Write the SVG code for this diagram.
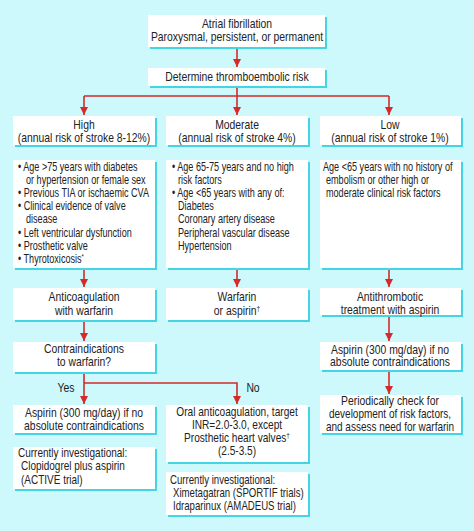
<svg xmlns="http://www.w3.org/2000/svg" width="474" height="531" viewBox="0 0 474 531">
<defs>
<style>
.bg{fill:#cdf8fc}
.sh{fill:#44d4e4}
.bx{fill:#ffffff}
text{font-family:"Liberation Sans",Arial,sans-serif;font-size:12.5px;fill:#222222}
.c{text-anchor:middle}
.l{font-size:12.2px}
.ln{stroke:#d42a2a;stroke-width:1.6;fill:none}
.sup{font-size:8px}
</style>
<marker id="ah2" viewBox="0 0 10 10" refX="10" refY="5" markerWidth="10" markerHeight="8" orient="auto" markerUnits="userSpaceOnUse">
<path d="M0,0 L10,5 L0,10 z" fill="#d42a2a"/>
</marker>
</defs>
<rect class="bg" x="0" y="0" width="474" height="531"/>

<g id="connectors">
<path class="ln" d="M237,49 V67" marker-end="url(#ah2)"/>
<path class="ln" d="M237,88 V96 M84,96 H389"/>
<path class="ln" d="M84,96 V115" marker-end="url(#ah2)"/>
<path class="ln" d="M237,96 V115" marker-end="url(#ah2)"/>
<path class="ln" d="M389,96 V115" marker-end="url(#ah2)"/>
<path class="ln" d="M84,270 V287" marker-end="url(#ah2)"/>
<path class="ln" d="M237,270 V287" marker-end="url(#ah2)"/>
<path class="ln" d="M389,270 V287" marker-end="url(#ah2)"/>
<path class="ln" d="M84,322 V341" marker-end="url(#ah2)"/>
<path class="ln" d="M389,317 V341" marker-end="url(#ah2)"/>
<path class="ln" d="M389,372 V394" marker-end="url(#ah2)"/>
<path class="ln" d="M84,374 V404" marker-end="url(#ah2)"/>
<path class="ln" d="M84,383 H237 V404" marker-end="url(#ah2)"/>
<text class="c" transform="translate(66,392) scale(0.83,1)">Yes</text>
<text class="c" transform="translate(253,392) scale(0.83,1)">No</text>
</g>

<g id="n-af">
<rect class="sh" x="150" y="17" width="177" height="32"/>
<rect class="bx" x="148" y="15" width="177" height="32"/>
<text class="c" transform="translate(237,28) scale(0.83,1)">Atrial fibrillation</text>
<text class="c" transform="translate(237,41) scale(0.83,1)">Paroxysmal, persistent, or permanent</text>
</g>

<g id="n-determine">
<rect class="sh" x="150" y="70" width="177" height="18"/>
<rect class="bx" x="148" y="68" width="177" height="18"/>
<text class="c" transform="translate(237,81) scale(0.83,1)">Determine thromboembolic risk</text>
</g>

<g id="n-high">
<rect class="sh" x="15" y="118" width="142" height="29"/>
<rect class="bx" x="13" y="116" width="142" height="29"/>
<text class="c" transform="translate(84,129) scale(0.83,1)">High</text>
<text class="c" transform="translate(84,142) scale(0.83,1)">(annual risk of stroke 8-12%)</text>
</g>

<g id="n-moderate">
<rect class="sh" x="168" y="118" width="142" height="29"/>
<rect class="bx" x="166" y="116" width="142" height="29"/>
<text class="c" transform="translate(237,129) scale(0.83,1)">Moderate</text>
<text class="c" transform="translate(237,142) scale(0.83,1)">(annual risk of stroke 4%)</text>
</g>

<g id="n-low">
<rect class="sh" x="322" y="118" width="141" height="29"/>
<rect class="bx" x="320" y="116" width="141" height="29"/>
<text class="c" transform="translate(390,129) scale(0.83,1)">Low</text>
<text class="c" transform="translate(390,142) scale(0.83,1)">(annual risk of stroke 1%)</text>
</g>

<g id="n-high-list">
<rect class="sh" x="15" y="162" width="142" height="108"/>
<rect class="bx" x="13" y="160" width="142" height="108"/>
<text class="l" transform="translate(18,171) scale(0.745,1)">• Age &gt;75 years with diabetes</text>
<text class="l" transform="translate(26,184) scale(0.745,1)">or hypertension or female sex</text>
<text class="l" transform="translate(18,197) scale(0.745,1)">• Previous TIA or ischaemic CVA</text>
<text class="l" transform="translate(18,210) scale(0.745,1)">• Clinical evidence of valve</text>
<text class="l" transform="translate(26,223) scale(0.745,1)">disease</text>
<text class="l" transform="translate(18,237) scale(0.745,1)">• Left ventricular dysfunction</text>
<text class="l" transform="translate(18,250) scale(0.745,1)">• Prosthetic valve</text>
<text class="l" transform="translate(18,263) scale(0.745,1)">• Thyrotoxicosis<tspan class="sup" dy="-4">*</tspan></text>
</g>

<g id="n-moderate-list">
<rect class="sh" x="168" y="162" width="142" height="108"/>
<rect class="bx" x="166" y="160" width="142" height="108"/>
<text class="l" transform="translate(172,171) scale(0.745,1)">• Age 65-75 years and no high</text>
<text class="l" transform="translate(178,184) scale(0.745,1)">risk factors</text>
<text class="l" transform="translate(172,197) scale(0.745,1)">• Age &lt;65 years with any of:</text>
<text class="l" transform="translate(178,210) scale(0.745,1)">Diabetes</text>
<text class="l" transform="translate(178,223) scale(0.745,1)">Coronary artery disease</text>
<text class="l" transform="translate(178,237) scale(0.745,1)">Peripheral vascular disease</text>
<text class="l" transform="translate(178,250) scale(0.745,1)">Hypertension</text>
</g>

<g id="n-low-list">
<rect class="sh" x="322" y="162" width="141" height="108"/>
<rect class="bx" x="320" y="160" width="141" height="108"/>
<text class="l" transform="translate(323,171) scale(0.745,1)">Age &lt;65 years with no history of</text>
<text class="l" transform="translate(326,184) scale(0.745,1)">embolism or other high or</text>
<text class="l" transform="translate(326,197) scale(0.745,1)">moderate clinical risk factors</text>
</g>

<g id="n-anticoag">
<rect class="sh" x="15" y="290" width="142" height="32"/>
<rect class="bx" x="13" y="288" width="142" height="32"/>
<text class="c" transform="translate(84,301) scale(0.83,1)">Anticoagulation</text>
<text class="c" transform="translate(84,315) scale(0.83,1)">with warfarin</text>
</g>

<g id="n-warfarin">
<rect class="sh" x="168" y="290" width="142" height="32"/>
<rect class="bx" x="166" y="288" width="142" height="32"/>
<text class="c" transform="translate(237,301) scale(0.83,1)">Warfarin</text>
<text class="c" transform="translate(237,315) scale(0.83,1)">or aspirin<tspan class="sup" dy="-4">†</tspan></text>
</g>

<g id="n-antithrombotic">
<rect class="sh" x="322" y="290" width="141" height="27"/>
<rect class="bx" x="320" y="288" width="141" height="27"/>
<text class="c" transform="translate(390,301) scale(0.83,1)">Antithrombotic</text>
<text class="c" transform="translate(390,314) scale(0.83,1)">treatment with aspirin</text>
</g>

<g id="n-contra">
<rect class="sh" x="15" y="344" width="142" height="30"/>
<rect class="bx" x="13" y="342" width="142" height="30"/>
<text class="c" transform="translate(84,353) scale(0.83,1)">Contraindications</text>
<text class="c" transform="translate(84,366) scale(0.83,1)">to warfarin?</text>
</g>

<g id="n-aspirin-low">
<rect class="sh" x="322" y="344" width="141" height="28"/>
<rect class="bx" x="320" y="342" width="141" height="28"/>
<text class="c" transform="translate(390,354) scale(0.83,1)">Aspirin (300 mg/day) if no</text>
<text class="c" transform="translate(390,366) scale(0.83,1)">absolute contraindications</text>
</g>

<g id="n-periodic">
<rect class="sh" x="322" y="397" width="141" height="38"/>
<rect class="bx" x="320" y="395" width="141" height="38"/>
<text class="c" transform="translate(390,405) scale(0.83,1)">Periodically check for</text>
<text class="c" transform="translate(390,418) scale(0.8,1)">development of risk factors,</text>
<text class="c" transform="translate(390,431) scale(0.8,1)">and assess need for warfarin</text>
</g>

<g id="n-aspirin-high">
<rect class="sh" x="15" y="407" width="142" height="28"/>
<rect class="bx" x="13" y="405" width="142" height="28"/>
<text class="c" transform="translate(84,417) scale(0.83,1)">Aspirin (300 mg/day) if no</text>
<text class="c" transform="translate(84,430) scale(0.83,1)">absolute contraindications</text>
</g>

<g id="n-oral">
<rect class="sh" x="168" y="407" width="142" height="57"/>
<rect class="bx" x="166" y="405" width="142" height="57"/>
<text class="c" transform="translate(237,416) scale(0.81,1)">Oral anticoagulation, target</text>
<text class="c" transform="translate(237,429) scale(0.81,1)">INR=2.0-3.0, except</text>
<text class="c" transform="translate(237,442) scale(0.81,1)">Prosthetic heart valves<tspan class="sup" dy="-4">†</tspan></text>
<text class="c" transform="translate(237,455) scale(0.81,1)">(2.5-3.5)</text>
</g>

<g id="n-invest-1">
<rect class="sh" x="15" y="449" width="142" height="42"/>
<rect class="bx" x="13" y="447" width="142" height="42"/>
<text transform="translate(18,457) scale(0.8,1)">Currently investigational:</text>
<text transform="translate(21,470) scale(0.8,1)">Clopidogrel plus aspirin</text>
<text transform="translate(21,484) scale(0.8,1)">(ACTIVE trial)</text>
</g>

<g id="n-invest-2">
<rect class="sh" x="168" y="474" width="142" height="43"/>
<rect class="bx" x="166" y="472" width="142" height="43"/>
<text transform="translate(170,484) scale(0.77,1)">Currently investigational:</text>
<text transform="translate(173,497) scale(0.77,1)">Ximetagatran (SPORTIF trials)</text>
<text transform="translate(173,510) scale(0.77,1)">Idraparinux (AMADEUS trial)</text>
</g>
</svg>
